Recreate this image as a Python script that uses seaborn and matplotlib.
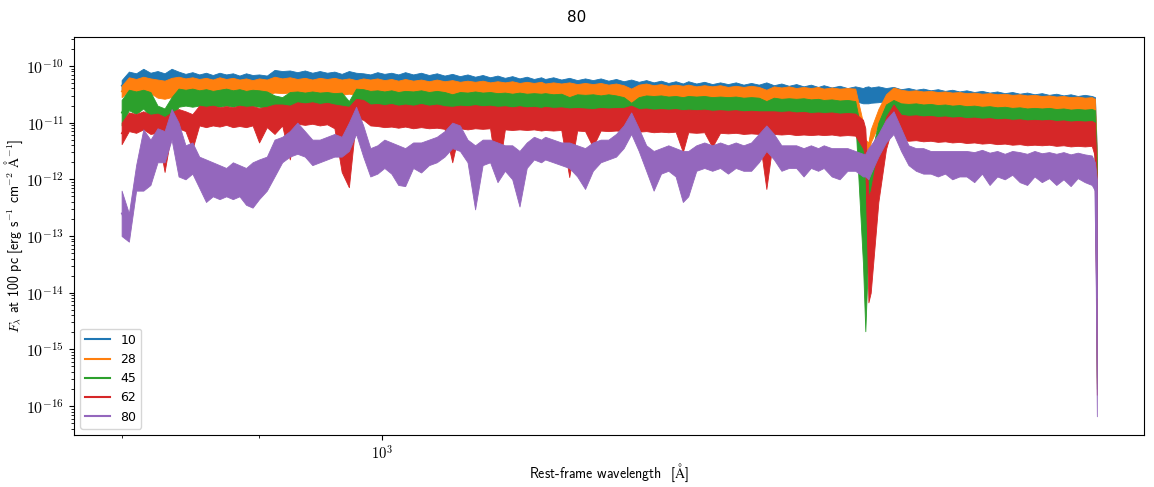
import numpy as np
import pandas as pd
import matplotlib
matplotlib.use("Agg")
import matplotlib.pyplot as plt
import seaborn as sns
from matplotlib.ticker import FuncFormatter, NullFormatter, FixedLocator

# rest-frame wavelength grid [Angstrom]
wavelength = [
    800, 805, 810, 815, 820, 825, 830, 835, 840, 845,
    850, 855, 860, 865, 870, 875, 880, 885, 890, 895,
    900, 906, 912, 918, 924, 930, 936, 942, 948, 954,
    960, 966, 972, 978, 984, 990, 996, 1002, 1008, 1014,
    1020, 1027, 1034, 1041, 1048, 1055, 1062, 1069, 1076, 1083,
    1090, 1097, 1104, 1111, 1118, 1125, 1132, 1139, 1146,
    1150, 1158, 1166, 1174, 1182, 1190, 1198, 1206, 1214, 1222,
    1230, 1238, 1246, 1254, 1262, 1270, 1278, 1286, 1294,
    1300, 1309, 1318, 1327, 1336, 1345, 1354, 1363, 1372,
    1381, 1390, 1399, 1408, 1417, 1426, 1435, 1444, 1453,
    1460, 1470, 1480, 1490, 1500, 1510, 1513, 1517, 1520, 1530,
    1540, 1550, 1560, 1570, 1580, 1590, 1600, 1610, 1620, 1630, 1640,
    1650, 1661, 1672, 1683, 1694, 1705, 1716, 1727, 1738,
    1749, 1760, 1771, 1782, 1793, 1804, 1815, 1826, 1837, 1842, 1845,
]

models = ["10", "28", "45", "62", "80"]
colors = ["#1f77b4", "#ff7f0e", "#2ca02c", "#d62728", "#9467bd"]
y_decades = [1e-16, 1e-15, 1e-14, 1e-13, 1e-12, 1e-11, 1e-10]

# log10 F_lambda, upper / lower edge of the noisy spectrum
upper_10 = [
    -10.25, -10.10, -10.13, -10.05, -10.12, -10.09, -10.13, -10.05, -10.10, -10.14,
    -10.11, -10.15, -10.12, -10.16, -10.12, -10.15, -10.13, -10.17, -10.13, -10.16,
    -10.15, -10.17, -10.07, -10.09, -10.08, -10.11, -10.08, -10.12, -10.09, -10.12,
    -10.10, -10.14, -10.09, -10.12, -10.13, -10.15, -10.11, -10.14, -10.12, -10.15,
    -10.11, -10.15, -10.12, -10.16, -10.13, -10.17, -10.14, -10.18, -10.15, -10.19,
    -10.16, -10.20, -10.17, -10.21, -10.18, -10.22, -10.19, -10.23, -10.20,
    -10.23, -10.20, -10.24, -10.21, -10.25, -10.22, -10.25, -10.22, -10.26, -10.23,
    -10.27, -10.24, -10.28, -10.25, -10.29, -10.26, -10.30, -10.27, -10.31,
    -10.27, -10.31, -10.28, -10.32, -10.29, -10.32, -10.29, -10.33, -10.30,
    -10.33, -10.29, -10.34, -10.31, -10.35, -10.32, -10.36, -10.33, -10.37,
    -10.34, -10.38, -10.35, -10.39, -10.36, -10.39, -10.37, -10.36, -10.38, -10.36,
    -10.39, -10.37, -10.41, -10.39, -10.42, -10.40, -10.43, -10.41, -10.44, -10.42, -10.45,
    -10.43, -10.46, -10.44, -10.47, -10.45, -10.48, -10.46, -10.49, -10.47,
    -10.50, -10.48, -10.51, -10.49, -10.52, -10.50, -10.53, -10.51, -10.53, -10.55, -11.50,
]
lower_10 = [
    -10.45, -10.30, -10.31, -10.28, -10.31, -10.30, -10.32, -10.28, -10.30, -10.32,
    -10.31, -10.33, -10.31, -10.33, -10.32, -10.34, -10.32, -10.34, -10.33, -10.35,
    -10.33, -10.34, -10.27, -10.26, -10.28, -10.28, -10.29, -10.29, -10.30, -10.30,
    -10.31, -10.31, -10.30, -10.31, -10.32, -10.33, -10.32, -10.33, -10.33, -10.34,
    -10.34, -10.35, -10.35, -10.36, -10.36, -10.37, -10.37, -10.38, -10.38, -10.39,
    -10.39, -10.40, -10.40, -10.41, -10.41, -10.42, -10.42, -10.43, -10.43,
    -10.44, -10.44, -10.45, -10.45, -10.46, -10.46, -10.47, -10.48, -10.49, -10.50,
    -10.50, -10.51, -10.50, -10.49, -10.48, -10.48, -10.49, -10.49, -10.50,
    -10.49, -10.50, -10.50, -10.51, -10.51, -10.52, -10.52, -10.53, -10.53,
    -10.54, -10.54, -10.55, -10.55, -10.56, -10.56, -10.57, -10.57, -10.58,
    -10.58, -10.59, -10.59, -10.60, -10.62, -10.66, -10.66, -10.66, -10.65, -10.64,
    -10.62, -10.60, -10.62, -10.62, -10.63, -10.63, -10.64, -10.64, -10.65, -10.65, -10.66,
    -10.66, -10.67, -10.67, -10.68, -10.68, -10.69, -10.69, -10.70, -10.70,
    -10.71, -10.71, -10.72, -10.72, -10.73, -10.73, -10.74, -10.74, -10.75, -10.80, -15.50,
]

upper_28 = [
    -10.35, -10.20, -10.23, -10.19, -10.22, -10.24, -10.26, -10.21, -10.19, -10.22,
    -10.20, -10.23, -10.21, -10.24, -10.20, -10.23, -10.21, -10.24, -10.22, -10.25,
    -10.22, -10.24, -10.19, -10.22, -10.20, -10.23, -10.21, -10.24, -10.21, -10.23,
    -10.21, -10.24, -10.22, -10.25, -10.22, -10.24, -10.22, -10.25, -10.23, -10.26,
    -10.23, -10.26, -10.24, -10.27, -10.24, -10.27, -10.25, -10.28, -10.26, -10.28,
    -10.26, -10.29, -10.27, -10.29, -10.27, -10.30, -10.28, -10.30, -10.28,
    -10.31, -10.29, -10.31, -10.29, -10.32, -10.30, -10.32, -10.30, -10.33, -10.31,
    -10.34, -10.40, -10.33, -10.31, -10.34, -10.32, -10.35, -10.33, -10.35,
    -10.33, -10.36, -10.34, -10.36, -10.34, -10.37, -10.35, -10.37, -10.35,
    -10.37, -10.42, -10.36, -10.38, -10.36, -10.39, -10.37, -10.39, -10.37,
    -10.40, -10.38, -10.40, -10.39, -10.40, -11.00, -11.30, -11.35, -11.12, -10.76,
    -10.50, -10.38, -10.42, -10.44, -10.43, -10.45, -10.44, -10.46, -10.45, -10.47, -10.46,
    -10.48, -10.47, -10.49, -10.48, -10.50, -10.49, -10.51, -10.50, -10.52,
    -10.51, -10.53, -10.52, -10.54, -10.53, -10.55, -10.54, -10.56, -10.55, -10.58, -11.60,
]
lower_28 = [
    -10.55, -10.45, -10.47, -10.44, -10.48, -10.56, -10.58, -10.55, -10.45, -10.47,
    -10.46, -10.48, -10.46, -10.49, -10.47, -10.48, -10.46, -10.49, -10.47, -10.49,
    -10.48, -10.50, -10.47, -10.48, -10.47, -10.49, -10.48, -10.50, -10.48, -10.50,
    -10.49, -10.51, -10.49, -10.51, -10.50, -10.52, -10.50, -10.52, -10.51, -10.53,
    -10.52, -10.54, -10.52, -10.54, -10.53, -10.55, -10.53, -10.55, -10.54, -10.56,
    -10.55, -10.57, -10.55, -10.57, -10.56, -10.58, -10.56, -10.58, -10.57,
    -10.58, -10.57, -10.59, -10.58, -10.60, -10.58, -10.60, -10.59, -10.61, -10.70,
    -10.70, -10.82, -10.65, -10.60, -10.62, -10.60, -10.62, -10.61, -10.63,
    -10.61, -10.63, -10.62, -10.64, -10.62, -10.64, -10.63, -10.65, -10.63,
    -10.66, -10.82, -10.64, -10.66, -10.64, -10.66, -10.65, -10.67, -10.65,
    -10.67, -10.66, -10.68, -10.67, -10.68, -11.80, -11.87, -11.65, -11.35, -11.05,
    -10.76, -10.62, -10.66, -10.68, -10.67, -10.69, -10.68, -10.70, -10.69, -10.71, -10.70,
    -10.72, -10.71, -10.73, -10.72, -10.74, -10.73, -10.75, -10.74, -10.76,
    -10.75, -10.77, -10.76, -10.78, -10.77, -10.79, -10.78, -10.80, -10.79, -10.95, -15.60,
]

upper_45 = [
    -10.60, -10.42, -10.45, -10.42, -10.46, -10.70, -10.75, -10.55, -10.40, -10.42,
    -10.40, -10.43, -10.41, -10.44, -10.42, -10.40, -10.43, -10.41, -10.44, -10.42,
    -10.43, -10.45, -10.52, -10.55, -10.46, -10.45, -10.47, -10.45, -10.47, -10.46,
    -10.48, -10.47, -10.62, -10.40, -10.41, -10.44, -10.43, -10.45, -10.43, -10.46,
    -10.44, -10.45, -10.43, -10.46, -10.44, -10.46, -10.50, -10.46, -10.47, -10.45,
    -10.47, -10.46, -10.48, -10.47, -10.49, -10.47, -10.49, -10.48, -10.49,
    -10.48, -10.50, -10.49, -10.55, -10.50, -10.51, -10.50, -10.52, -10.50, -10.52,
    -10.55, -10.65, -10.55, -10.52, -10.53, -10.52, -10.54, -10.53, -10.55,
    -10.53, -10.54, -10.53, -10.55, -10.54, -10.55, -10.54, -10.56, -10.55,
    -10.56, -10.62, -10.56, -10.58, -10.57, -10.58, -10.57, -10.59, -10.58,
    -10.60, -10.59, -10.61, -10.60, -10.62, -11.30, -12.00, -12.00, -11.60, -11.00,
    -10.68, -10.60, -10.66, -10.67, -10.66, -10.68, -10.67, -10.69, -10.68, -10.70, -10.69,
    -10.71, -10.70, -10.72, -10.71, -10.73, -10.72, -10.74, -10.73, -10.75,
    -10.74, -10.75, -10.74, -10.76, -10.75, -10.77, -10.76, -10.77, -10.76, -10.78, -11.70,
]
lower_45 = [
    -11.05, -10.78, -10.85, -10.75, -10.90, -11.05, -11.08, -10.95, -10.72, -10.70,
    -10.72, -10.70, -10.73, -10.71, -10.72, -10.70, -10.72, -10.70, -10.73, -10.71,
    -10.72, -10.74, -10.85, -10.88, -10.76, -10.74, -10.77, -10.75, -10.78, -10.76,
    -10.78, -10.80, -10.90, -10.65, -10.68, -10.74, -10.76, -10.75, -10.77, -10.76,
    -10.77, -10.76, -10.78, -10.77, -10.79, -10.78, -10.94, -10.78, -10.79, -10.78,
    -10.80, -10.79, -10.80, -10.79, -10.81, -10.80, -10.81, -10.80, -10.82,
    -10.81, -10.82, -10.81, -10.90, -10.82, -10.83, -10.82, -10.84, -10.83, -10.84,
    -10.95, -11.20, -10.95, -10.84, -10.85, -10.84, -10.86, -10.85, -11.06,
    -10.86, -10.87, -10.86, -10.88, -10.87, -10.88, -10.87, -10.89, -10.88,
    -10.89, -11.17, -10.89, -10.90, -10.89, -10.91, -10.90, -10.91, -10.90,
    -10.92, -10.91, -10.93, -10.92, -10.93, -13.50, -14.68, -13.20, -12.60, -11.50,
    -11.00, -10.88, -10.98, -11.00, -10.99, -11.01, -11.00, -11.02, -11.01, -11.03, -11.02,
    -11.04, -11.03, -11.05, -11.04, -11.06, -11.05, -11.07, -11.06, -11.08,
    -11.07, -11.08, -11.07, -11.09, -11.08, -11.10, -11.09, -11.10, -11.09, -11.15, -15.70,
]

upper_62 = [
    -11.00, -10.82, -10.85, -10.80, -10.86, -10.84, -10.90, -10.82, -10.76, -10.80,
    -10.85, -10.70, -10.72, -10.70, -10.73, -10.71, -10.73, -10.70, -10.72, -10.71,
    -10.74, -10.72, -10.68, -10.68, -10.70, -10.64, -10.66, -10.64, -10.67, -10.65,
    -10.68, -10.70, -10.72, -10.58, -10.60, -10.68, -10.67, -10.69, -10.67, -10.70,
    -10.68, -10.70, -10.67, -10.70, -10.68, -10.71, -10.72, -10.70, -10.71, -10.69,
    -10.71, -10.70, -10.72, -10.71, -10.73, -10.71, -10.73, -10.72, -10.74,
    -10.72, -10.74, -10.73, -10.75, -10.74, -10.75, -10.76, -10.74, -10.75, -10.74,
    -10.74, -10.70, -10.76, -10.75, -10.77, -10.76, -10.77, -10.76, -10.78,
    -10.77, -10.78, -10.77, -10.79, -10.78, -10.79, -10.78, -10.80, -10.79,
    -10.80, -10.80, -10.80, -10.81, -10.80, -10.82, -10.81, -10.83, -10.82,
    -10.83, -10.82, -10.84, -10.83, -10.84, -10.95, -11.10, -12.30, -12.20, -11.45,
    -10.90, -10.68, -10.86, -10.88, -10.87, -10.89, -10.88, -10.90, -10.89, -10.91, -10.90,
    -10.92, -10.91, -10.93, -10.92, -10.94, -10.93, -10.95, -10.94, -10.96,
    -10.95, -10.96, -10.95, -10.97, -10.96, -10.98, -10.97, -10.98, -10.97, -11.00, -12.00,
]
lower_62 = [
    -11.38, -11.15, -11.18, -11.12, -11.20, -11.18, -11.87, -11.15, -11.10, -11.15,
    -11.47, -11.05, -11.08, -11.05, -11.07, -11.04, -11.08, -11.06, -11.08, -11.05,
    -11.35, -11.08, -11.20, -11.05, -11.65, -11.02, -11.04, -11.02, -11.05, -11.03,
    -11.10, -11.87, -12.14, -10.92, -10.95, -11.05, -11.06, -11.08, -11.07, -11.09,
    -11.07, -11.10, -11.08, -11.10, -11.09, -11.11, -11.70, -11.10, -11.12, -11.10,
    -11.11, -11.10, -12.00, -11.12, -11.13, -11.12, -11.13, -11.12, -11.14,
    -11.13, -11.14, -11.13, -11.96, -11.14, -11.15, -11.43, -11.14, -11.15, -11.14,
    -11.15, -11.10, -11.16, -11.15, -11.17, -11.16, -11.17, -11.16, -11.52,
    -11.17, -11.18, -11.17, -11.43, -11.18, -11.19, -11.18, -11.20, -11.19,
    -11.20, -12.17, -11.20, -11.21, -11.20, -11.22, -11.21, -11.22, -11.21,
    -11.22, -11.21, -11.23, -11.22, -11.23, -11.45, -11.60, -14.17, -14.00, -12.40,
    -11.47, -11.00, -11.30, -11.32, -11.31, -11.33, -11.32, -11.34, -11.33, -11.35, -11.34,
    -11.36, -11.35, -11.37, -11.36, -11.38, -11.37, -11.39, -11.38, -11.40,
    -11.39, -11.40, -11.39, -11.41, -11.40, -11.42, -11.41, -11.42, -11.41, -11.60, -15.80,
]

upper_80 = [
    -12.20, -12.60, -11.75, -11.12, -11.30, -11.10, -11.15, -10.76, -11.00, -11.40,
    -11.35, -11.60, -11.65, -11.70, -11.75, -11.80, -11.70, -11.75, -11.80, -11.70,
    -11.65, -11.60, -11.30, -11.25, -11.15, -11.00, -11.15, -11.30, -11.30, -11.25,
    -11.20, -11.25, -11.00, -10.72, -11.05, -11.45, -11.40, -11.30, -11.35, -11.40,
    -11.45, -11.35, -11.35, -11.30, -11.25, -11.15, -11.00, -11.05, -11.30, -11.40,
    -11.30, -11.30, -11.35, -11.40, -11.40, -11.50, -11.35, -11.25, -11.30,
    -11.25, -11.30, -11.35, -11.35, -11.40, -11.45, -11.35, -11.30, -11.30, -11.20,
    -11.05, -10.82, -11.10, -11.40, -11.50, -11.45, -11.40, -11.45, -11.50,
    -11.50, -11.40, -11.35, -11.40, -11.35, -11.40, -11.35, -11.40, -11.35,
    -11.20, -11.05, -11.20, -11.40, -11.40, -11.40, -11.45, -11.40, -11.45,
    -11.40, -11.45, -11.45, -11.45, -11.50, -11.55, -11.55, -11.45, -11.40, -11.20,
    -10.95, -10.80, -11.10, -11.40, -11.45, -11.45, -11.50, -11.50, -11.50, -11.50, -11.50,
    -11.50, -11.52, -11.48, -11.53, -11.50, -11.55, -11.50, -11.52, -11.55,
    -11.50, -11.54, -11.52, -11.55, -11.52, -11.56, -11.53, -11.56, -11.58, -11.70, -12.00,
]
lower_80 = [
    -13.00, -13.10, -12.20, -12.20, -12.10, -11.70, -11.70, -11.30, -11.95, -12.00,
    -11.90, -12.15, -12.40, -12.30, -12.35, -12.30, -12.35, -12.30, -12.45, -12.50,
    -12.35, -12.20, -11.95, -11.70, -11.60, -11.55, -11.60, -11.75, -11.70, -11.65,
    -11.60, -11.60, -11.50, -11.20, -11.60, -11.95, -11.90, -11.80, -11.90, -12.10,
    -12.12, -11.80, -11.88, -11.75, -11.70, -11.60, -11.45, -11.50, -11.70, -12.53,
    -11.75, -11.70, -12.05, -11.85, -12.00, -12.48, -11.80, -11.65, -11.70,
    -11.65, -11.70, -11.75, -11.80, -11.95, -12.17, -11.85, -11.70, -11.65, -11.60,
    -11.45, -11.20, -11.50, -11.85, -12.20, -11.90, -11.85, -11.95, -12.40,
    -12.30, -11.85, -11.80, -11.85, -11.80, -11.90, -11.80, -11.85, -11.85,
    -11.70, -11.50, -11.65, -11.85, -11.80, -11.80, -11.95, -11.80, -11.85,
    -11.80, -11.95, -12.00, -11.85, -11.85, -11.95, -11.95, -12.00, -11.90, -11.60,
    -11.35, -11.20, -11.50, -11.75, -11.85, -11.90, -11.90, -11.95, -11.90, -12.00, -11.95,
    -11.95, -12.05, -11.90, -12.10, -11.95, -12.00, -11.92, -12.05, -12.10,
    -11.95, -12.05, -11.98, -12.10, -12.00, -12.12, -11.98, -12.05, -12.10, -12.20, -16.18,
]

uppers = [upper_10, upper_28, upper_45, upper_62, upper_80]
lowers = [lower_10, lower_28, lower_45, lower_62, lower_80]


def build_frame():
    rows = []
    for name, up, lo in zip(models, uppers, lowers):
        assert len(up) == len(wavelength) and len(lo) == len(wavelength), name
        for w, a, b in zip(wavelength, up, lo):
            rows.append((name, w, 10.0 ** a))
            rows.append((name, w, 10.0 ** b))
    return pd.DataFrame(rows, columns=["model", "wavelength", "flux"])


def power_label(value, pos):
    return r"$\mathrm{10^{%d}}$" % int(round(np.log10(value)))


def main():
    df = build_frame()
    plt.rcParams["mathtext.fontset"] = "cm"

    fig, ax = plt.subplots(figsize=(11.54, 4.87), dpi=100)
    fig.subplots_adjust(left=0.0641, right=0.9913, top=0.924, bottom=0.1068)
    ax.set_xscale("log")
    ax.set_yscale("log")

    sns.lineplot(data=df, x="wavelength", y="flux", hue="model",
                 hue_order=models, palette=colors, estimator="mean",
                 errorbar=("pi", 100), err_kws={"alpha": 1.0, "linewidth": 0.6},
                 linewidth=1.0, ax=ax)

    # keep each model (band + line) stacked above the previous one
    for i, (line, band) in enumerate(zip(ax.lines, ax.collections)):
        band.set_zorder(2 * i + 1)
        line.set_zorder(2 * i + 2)

    old = ax.get_legend()
    handles = old.legend_handles
    labels = [t.get_text() for t in old.get_texts()]
    for h in handles:
        h.set_linewidth(1.5)
    ax.legend(handles, labels, loc="lower left", fontsize=9)

    ax.set_xlim(768, 1921)
    ax.set_ylim(10 ** -16.51, 10 ** -9.49)
    ax.xaxis.set_major_locator(FixedLocator([1000]))
    ax.xaxis.set_major_formatter(FuncFormatter(power_label))
    ax.xaxis.set_minor_formatter(NullFormatter())
    ax.yaxis.set_major_locator(FixedLocator(y_decades))
    ax.yaxis.set_major_formatter(FuncFormatter(power_label))
    ax.yaxis.set_minor_formatter(NullFormatter())
    ax.tick_params(axis="y", which="major", labelsize=11.5)
    ax.tick_params(axis="x", which="major", labelsize=10.5)

    ax.set_xlabel(r"Rest-frame wavelength  [$\mathrm{\AA}$]", fontfamily="cmss10", fontsize=10)
    ax.set_ylabel(r"$F_\lambda$ at 100 pc [erg s$^{-1}$ cm$^{-2}$ $\mathrm{\AA}^{-1}$]",
                  fontfamily="cmss10", fontsize=10)
    ax.xaxis.set_label_coords(0.5, -0.068)
    ax.yaxis.set_label_coords(-0.046, 0.5)
    fig.suptitle("80", fontsize=11)

    fig.savefig("out.png", dpi=100)


if __name__ == "__main__":
    main()
